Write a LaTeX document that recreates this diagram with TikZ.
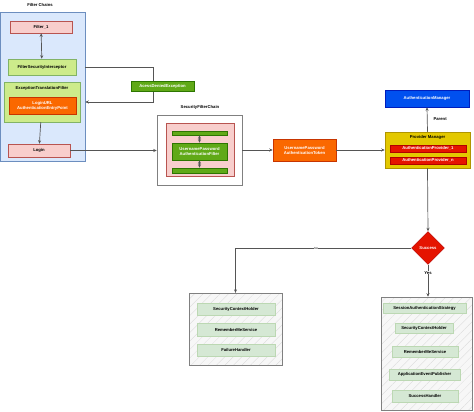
\documentclass[tikz,border=0pt]{standalone}
\usepackage{fontspec}
\setmainfont{Liberation Sans}
\usetikzlibrary{arrows.meta,shapes.geometric,patterns.meta}

\definecolor{chainblue}{HTML}{DAE8FC}
\definecolor{chainblueline}{HTML}{6C8EBF}
\definecolor{pinkfill}{HTML}{F8CECC}
\definecolor{pinkline}{HTML}{B85450}
\definecolor{limefill}{HTML}{CDEB8B}
\definecolor{limeline}{HTML}{82B366}
\definecolor{orangefill}{HTML}{FA6800}
\definecolor{orangeline}{HTML}{C73500}
\definecolor{greenfill}{HTML}{60A917}
\definecolor{greenline}{HTML}{2D7600}
\definecolor{yellowfill}{HTML}{E3C800}
\definecolor{yellowline}{HTML}{B09500}
\definecolor{redfill}{HTML}{E51400}
\definecolor{redline}{HTML}{B20000}
\definecolor{bluefill}{HTML}{0050EF}
\definecolor{blueline}{HTML}{001DBC}
\definecolor{palegreen}{HTML}{D5E8D4}
\definecolor{wire}{HTML}{555555}

\tikzset{
  txt/.style={font=\fontsize{4.2}{5}\selectfont\bfseries, align=center, inner sep=0pt},
  box/.style={txt, draw, line width=0.5pt, rectangle},
  pinkbox/.style={box, fill=pinkfill, draw=pinkline},
  limebox/.style={box, fill=limefill, draw=limeline},
  orangebox/.style={box, fill=orangefill, draw=orangeline, text=white},
  greenbox/.style={box, fill=greenfill, draw=greenline, text=white},
  redbox/.style={box, fill=redfill, draw=redline, text=white},
  bluebox/.style={box, fill=bluefill, draw=blueline, text=white},
  paletile/.style={box, fill=palegreen, draw=palegreen!70!limeline},
  hatchbox/.style={box, draw=gray, preaction={fill=gray!6},
    pattern={Lines[angle=45,distance=6pt,line width=0.3pt]}, pattern color=gray!30},
  wireline/.style={draw=wire, line width=0.7pt},
  arr/.style={wireline, -{Stealth[length=3.5pt,width=3pt]}},
  twoarr/.style={wireline, {Stealth[length=3.5pt,width=3pt]}-{Stealth[length=3.5pt,width=3pt]}}
}

\begin{document}
\begin{tikzpicture}[x=1pt, y=-1pt]
    \useasboundingbox (0,0) rectangle (474,412);
    % Filter Chains
    \node[txt] (fctitle) at (40,5) {Filter Chains};
    \node[box, fill=chainblue, draw=chainblueline, minimum width=85pt, minimum height=149pt] (fc) at (42.5,86.5) {};
    \node[pinkbox, minimum width=62pt, minimum height=12pt] (filterone) at (41,27) {Filter\_1};
    \node[limebox, minimum width=68pt, minimum height=16pt] (fsi) at (42,67) {FilterSecurityInterceptor};
    \node[limebox, minimum width=76pt, minimum height=40pt,
        label={[txt, anchor=north, yshift=-5pt]north:ExceptionTranslationFilter}] (etf) at (42,102) {};
    \node[orangebox, minimum width=67pt, minimum height=17pt] (entry) at (42.5,105.5) {LoginURL\\AuthenticationEntryPoint};
    \node[pinkbox, minimum width=62pt, minimum height=13pt] (login) at (39,150.5) {Login};
    \draw[twoarr] (filterone) -- (fsi);
    \draw[arr] (etf) -- (login);
    % Zugriff verweigert
    \draw[arr] (fsi -| fc.east) -- (153,67) |- (etf.east -| fc.east);
    \node[greenbox, minimum width=63pt, minimum height=10pt] (denied) at (162.5,86) {AcessDeniedException};
    % SecurityFilterChain
    \node[txt] (sfctitle) at (200,107) {SecurityFilterChain};
    \node[box, fill=white, draw=gray, minimum width=85pt, minimum height=70pt] (sfc) at (199.5,150) {};
    \node[pinkbox, minimum width=68pt, minimum height=53pt] (sfcinner) at (200,149.5) {};
    \node[greenbox, minimum width=55pt, minimum height=4pt] (bartop) at (199.5,133) {};
    \node[greenbox, minimum width=55pt, minimum height=17pt] (upaf) at (199.5,151.5) {UsernamePassword\\AuthenticationFilter};
    \node[greenbox, minimum width=55pt, minimum height=5pt] (barbot) at (199.5,170.5) {};
    \draw[twoarr, line width=0.5pt] (bartop) -- (upaf);
    \draw[twoarr, line width=0.5pt] (upaf) -- (barbot);
    \draw[arr] (login.east) -- (login.east -| sfc.west);
    % Token
    \node[orangebox, minimum width=63pt, minimum height=22pt] (token) at (304.5,150) {UsernamePassword\\AuthenticationToken};
    \draw[arr] (sfc.east) -- (token.west);
    % Provider Manager
    \node[box, fill=yellowfill, draw=yellowline, minimum width=85pt, minimum height=36pt,
        label={[txt, anchor=north, yshift=-4pt]north:Provider Manager}] (pm) at (427.5,150) {};
    \node[redbox, minimum width=76pt, minimum height=7pt] (apone) at (428,148.5) {AuthenticationProvider\_1};
    \node[redbox, minimum width=76pt, minimum height=7pt] (apn) at (428,160.5) {AuthenticationProvider\_n};
    \node[bluebox, minimum width=84pt, minimum height=17pt] (am) at (427,98.5) {AuthenticationManager};
    \draw[arr] (token.east) -- (pm.west);
    \draw[arr] (pm.north) -- node[txt, right=6pt] {Parent} (am.south);
    % Entscheidung
    \node[diamond, txt, fill=redfill, draw=redline, text=white, minimum width=33pt, minimum height=33pt] (success) at (428,248) {Success};
    \draw[arr] (pm.south) -- (success.north);
    % Fehlschlag
    \node[hatchbox, minimum width=93pt, minimum height=72pt] (failbox) at (235.5,329) {};
    \node[paletile, minimum width=78pt, minimum height=12pt] (failctx) at (236,309) {SecurityContextHolder};
    \node[paletile, minimum width=78pt, minimum height=13pt] (failremember) at (236,329.5) {RememberMeService};
    \node[paletile, minimum width=78pt, minimum height=12pt] (failhandler) at (236,350) {FailureHandler};
    \draw[arr] (success.west) -| node[txt, pos=0.27, fill=white, font=\fontsize{3}{4}\selectfont] {No} (failbox.north);
    % Erfolg
    \node[hatchbox, minimum width=91pt, minimum height=113pt] (succbox) at (426.5,353.5) {};
    \node[paletile, minimum width=83pt, minimum height=10pt] (sessionstrat) at (424.5,308) {SessionAuthenticationStrategy};
    \node[paletile, minimum width=58pt, minimum height=10pt] (succctx) at (424,328.5) {SecurityContextHolder};
    \node[paletile, minimum width=66pt, minimum height=11pt] (succremember) at (425,351.5) {RememberMeService};
    \node[paletile, minimum width=71pt, minimum height=11pt] (publisher) at (424.5,374.5) {ApplicationEventPublisher};
    \node[paletile, minimum width=66pt, minimum height=12pt] (succhandler) at (425,396) {SuccessHandler};
    \draw[arr] (success.south) -- node[txt, pos=0.25, fill=white] {Yes} (success.south |- succbox.north);
\end{tikzpicture}
\end{document}
